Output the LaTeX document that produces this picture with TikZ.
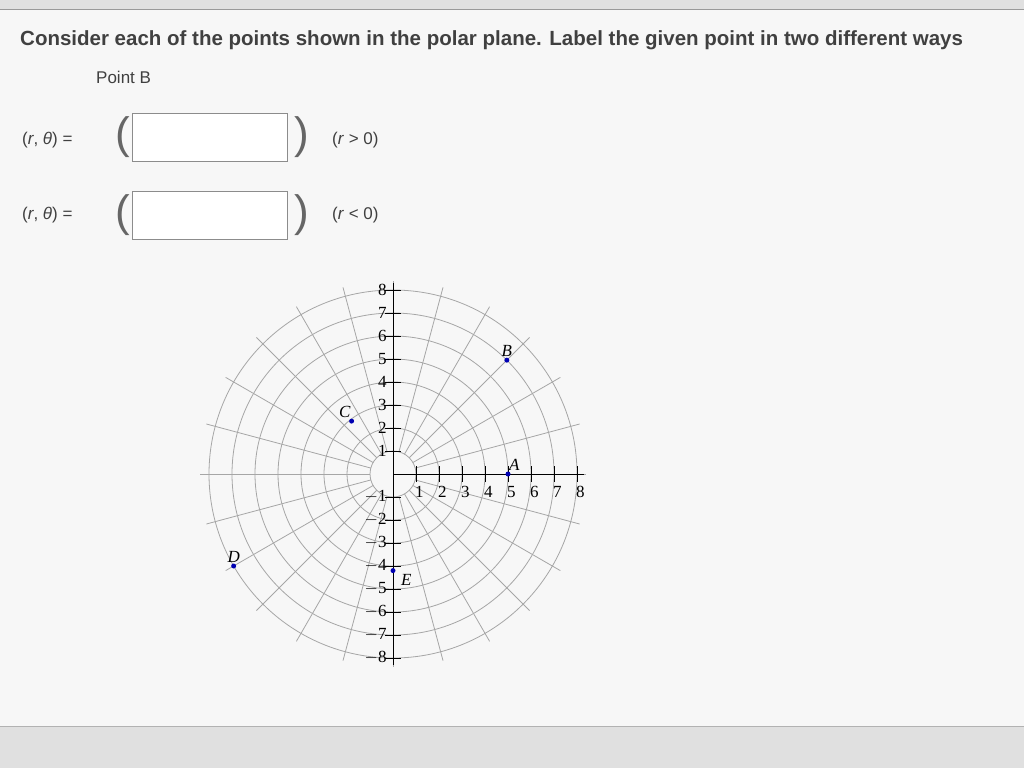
\documentclass[tikz,border=0pt]{standalone}
\usepackage{fontspec}
\setmainfont{Liberation Sans}
\newfontfamily\numfont{Liberation Serif}
\begin{document}
\begin{tikzpicture}[x=1pt,y=-1pt,
  grid/.style={draw=black!35,line width=0.8pt},
  inbox/.style={draw=black!45,line width=0.8pt,fill=white,minimum width=155pt,minimum height=48pt,inner sep=0pt},
  lbl/.style={font=\fontsize{17}{20}\selectfont,text=black!75,anchor=west,inner sep=0pt},
  num/.style={font=\numfont\fontsize{17}{18}\selectfont,inner sep=0.5pt},
  par/.style={font=\fontsize{44}{44}\selectfont,text=black!60,inner sep=0pt},
  pt/.style={circle,fill=blue!70!black,inner sep=0pt,minimum size=5pt},
  plab/.style={font=\numfont\itshape\fontsize{17}{18}\selectfont,inner sep=1pt}]
\useasboundingbox (0,0) rectangle (1024,768);
\fill[black!12] (0,0) rectangle (1024,768);
\fill[black!3] (0,10) rectangle (1024,726);
\draw[black!40,line width=1pt] (0,10) -- (1024,10);
\draw[black!30,line width=1pt] (0,726) -- (1024,726);
\begin{scope}
\clip (0,0) rectangle (1024,768);
\node[lbl,font=\bfseries\fontsize{20.5}{24}\selectfont] (title) at (20,40) {Consider each of the points shown in the polar plane. Label the given point in two different ways};
\end{scope}
\node[lbl] (pb) at (96,77) {Point B};
\node[lbl] (l1) at (22,140) {(\textit{r}, \textit{θ}) =};
\node[lbl] (l2) at (22,215) {(\textit{r}, \textit{θ}) =};
\node[inbox] (b1) at (210,137) {};
\node[inbox] (b2) at (210,215) {};
\node[par,anchor=east] (p1) at ([xshift=-2pt]b1.west) {(};
\node[par,anchor=west] (p2) at ([xshift=6pt]b1.east) {)};
\node[par,anchor=east] (p3) at ([xshift=-2pt]b2.west) {(};
\node[par,anchor=west] (p4) at ([xshift=6pt]b2.east) {)};
\node[lbl] (c1) at (332,140) {(\textit{r} > 0)};
\node[lbl] (c2) at (332,215) {(\textit{r} < 0)};
% polar grid
\begin{scope}[shift={(393,474)},x=23pt,y=23pt]
\foreach \r in {1,...,8} \draw[grid] (0,0) circle[radius=\r];
\foreach \a in {0,15,...,345} \draw[grid] (\a:1) -- (\a:8.4);
\draw[black,line width=1pt] (0,-8.3) -- (0,8.3);
\draw[black,line width=1pt] (0,0) -- (8.3,0);
\foreach \i in {1,...,8} {
  \draw[black,line width=0.8pt] (-0.35,\i) -- (0.35,\i);
  \draw[black,line width=0.8pt] (-0.35,-\i) -- (0.35,-\i);
  \draw[black,line width=0.8pt] (\i,-0.35) -- (\i,0.35);
  \node[num,anchor=east] (yl\i) at (-0.25,\i) {\i};
  \node[num,anchor=east] (ym\i) at (-0.25,-\i) {$-$\i};
  \node[num,anchor=north] (xl\i) at (\i+0.15,-0.5) {\i};
}
\node[pt] (A) at (5,0) {}; \node[plab,anchor=south west] at (A.north) {A};
\node[pt] (B) at (45:7) {}; \node[plab,anchor=south] at (B.north) {B};
\node[pt] (C) at (-1.8,2.3) {}; \node[plab,anchor=south east] at (C.north) {C};
\node[pt] (D) at (210:8) {}; \node[plab,anchor=south] at (D.north) {D};
\node[pt] (E) at (0,-4.2) {}; \node[plab,anchor=west] at (0.3,-4.6) {E};
\end{scope}
\end{tikzpicture}
\end{document}
